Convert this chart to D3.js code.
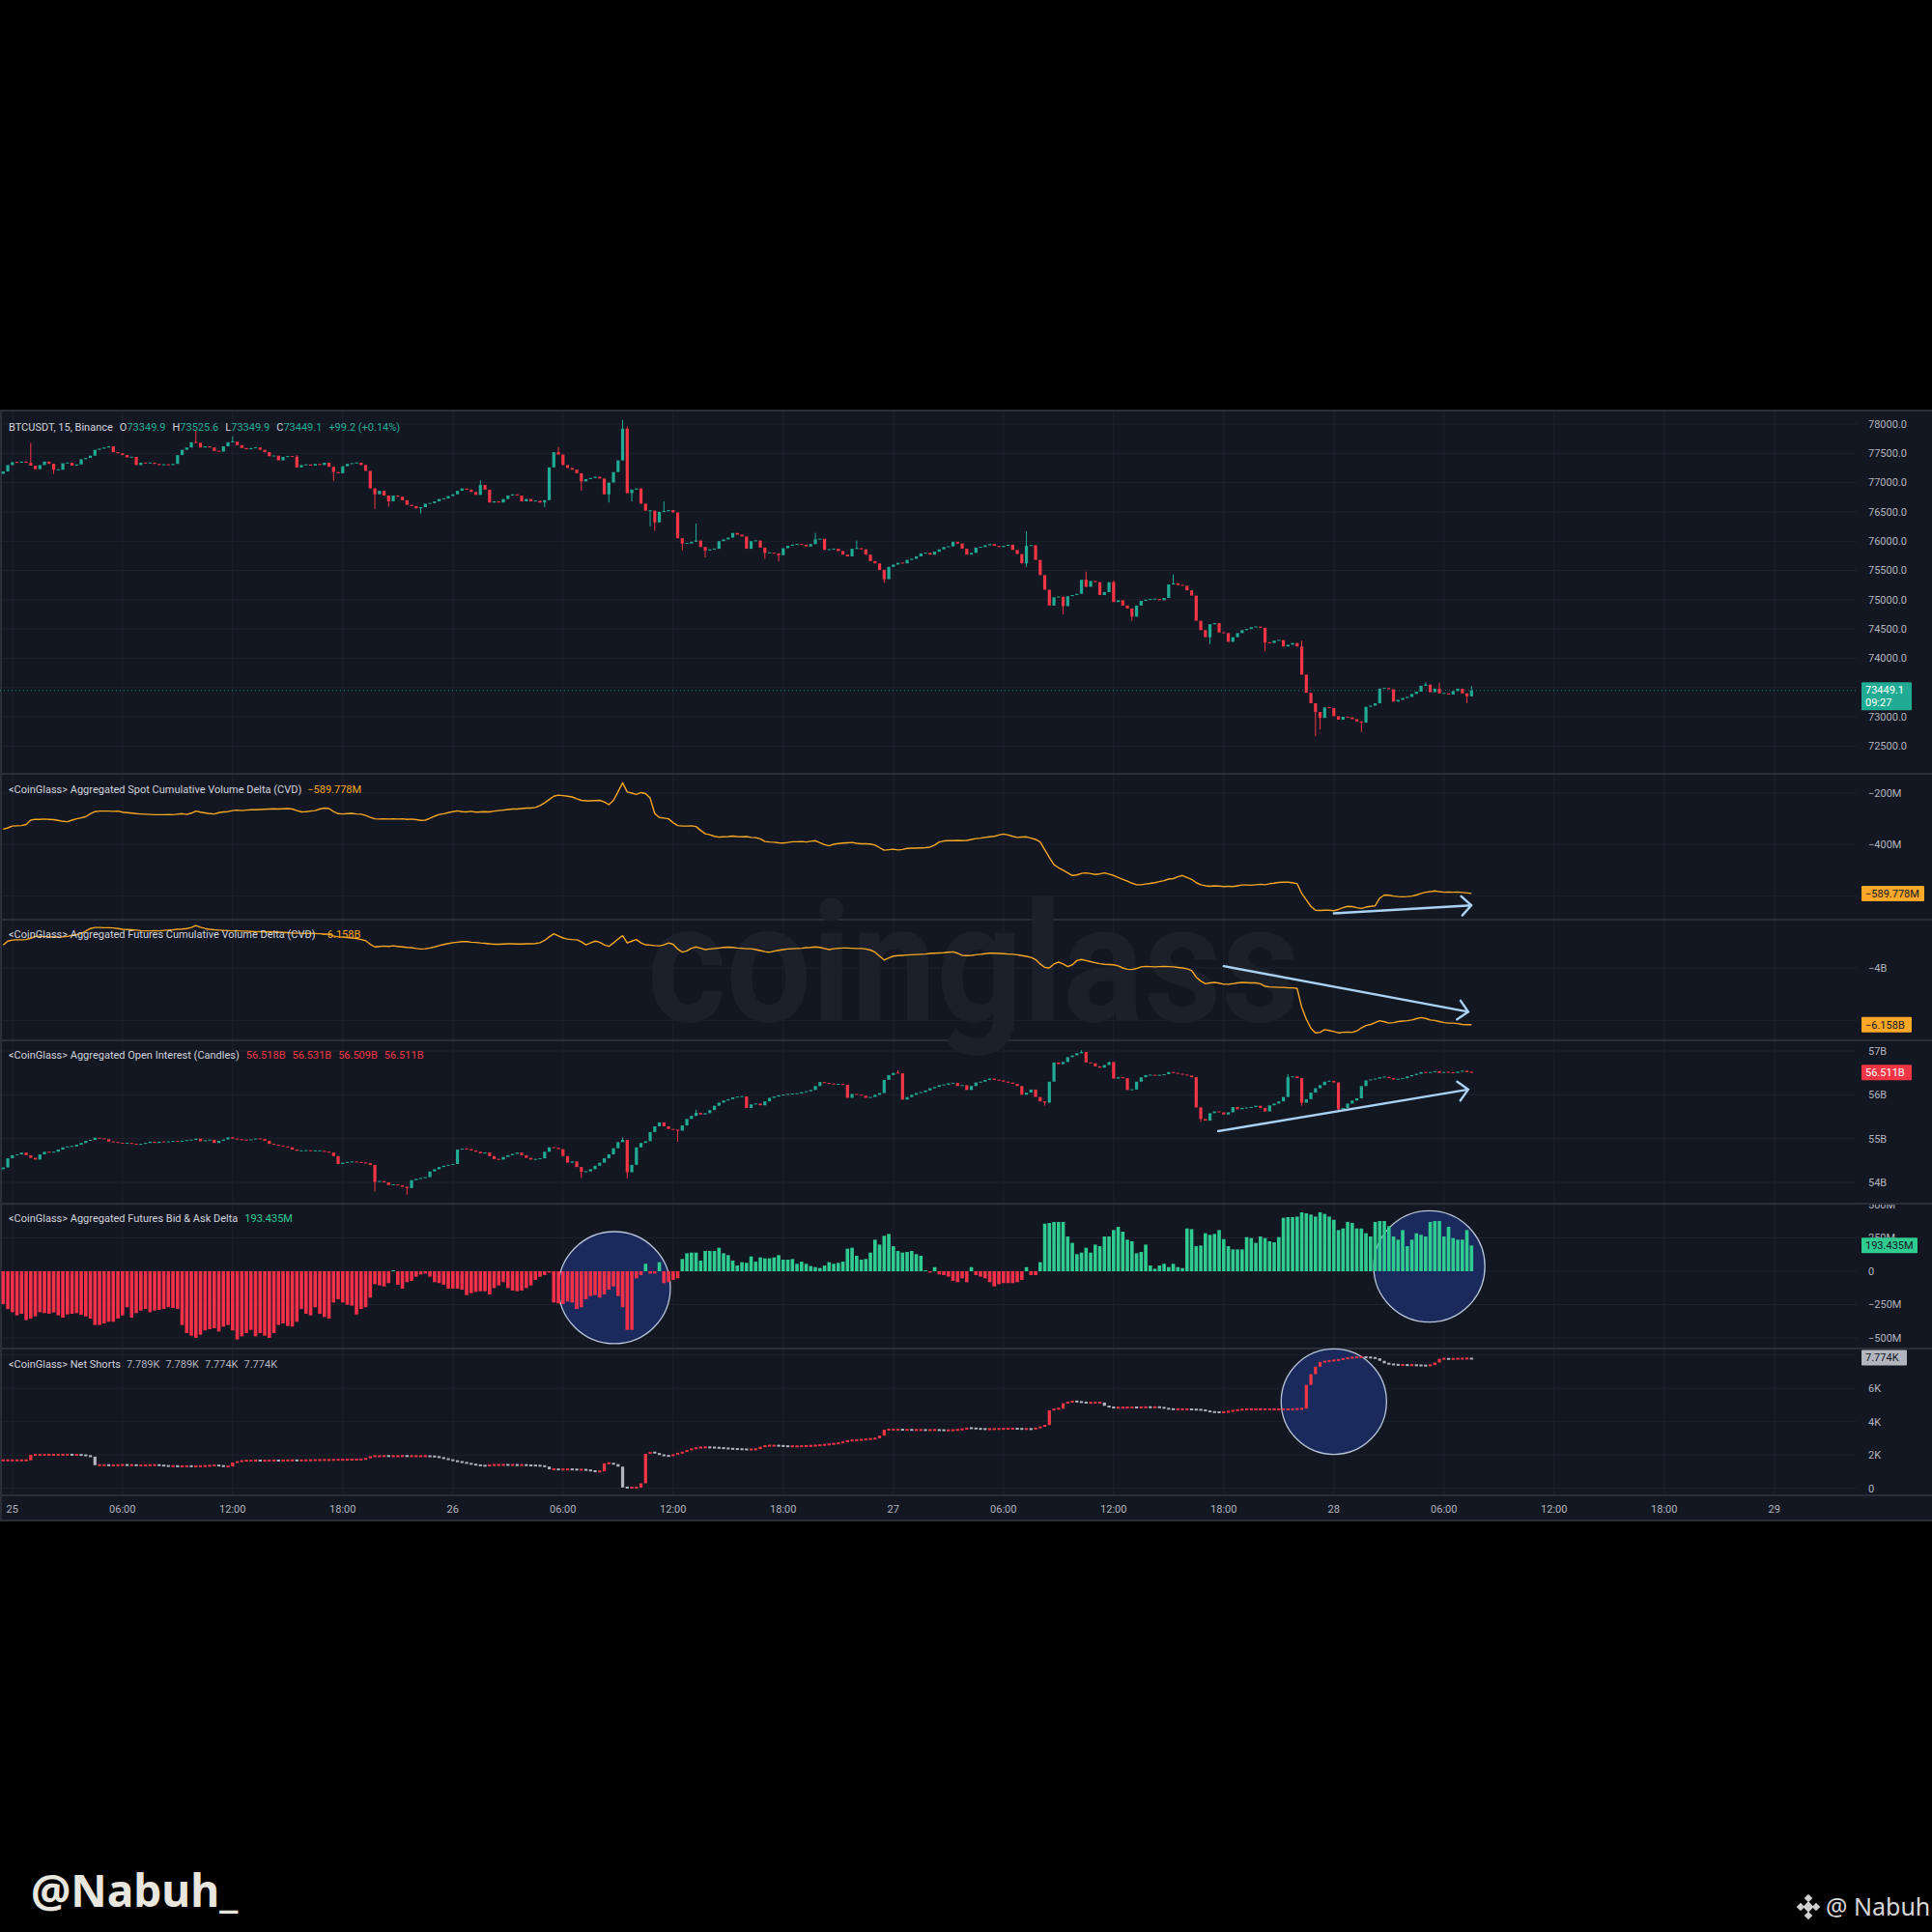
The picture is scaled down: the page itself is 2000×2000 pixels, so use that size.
<!DOCTYPE html>
<html><head><meta charset="utf-8">
<script src="https://cdn.jsdelivr.net/npm/d3@7/dist/d3.min.js"></script>
<style>html,body{margin:0;padding:0;background:#000;}svg{display:block;}</style>
</head><body>
<svg id="c" width="2000" height="2000"></svg>
<script>
// ---------- DATA ----------
const startHour = -0.5;          // first candle: 24th 23:30 (hours since 25th 00:00)
const stepHour = 0.25;           // 15-minute candles
const timeHours  = [0,6,12,18,24,30,36,42,48,54,60,66,72,78,84,90,96];
const timeLabels = ["25","06:00","12:00","18:00","26","06:00","12:00","18:00","27","06:00","12:00","18:00","28","06:00","12:00","18:00","29"];

const priceOpen0 = 77150;
const priceClose = [
77190,77300,77350,77340,77360,77340,77290,77230,77300,77360,
77320,77220,77220,77330,77340,77290,77310,77400,77420,77460,
77560,77580,77600,77620,77520,77500,77470,77430,77440,77300,
77340,77330,77340,77320,77300,77310,77300,77320,77470,77560,
77600,77690,77680,77600,77620,77600,77540,77530,77620,77690,
77700,77640,77590,77570,77590,77600,77560,77520,77450,77460,
77380,77440,77450,77440,77260,77300,77310,77290,77320,77300,
77340,77270,77180,77160,77280,77320,77330,77340,77300,77200,
76900,76800,76860,76780,76680,76780,76760,76700,76620,76600,
76560,76580,76640,76650,76680,76720,76730,76770,76800,76860,
76900,76880,76840,76790,76960,76880,76660,76680,76660,76720,
76780,76800,76780,76680,76720,76680,76690,76660,76700,77260,
77520,77480,77300,77250,77220,77160,77020,77060,77080,77100,
77070,76800,77000,77180,77380,77920,76820,76880,76900,76640,
76520,76520,76320,76500,76510,76530,76490,76050,75960,75960,
75990,76010,75900,75840,75860,75870,76000,76030,76060,76140,
76110,76080,75870,76000,76010,75890,75800,75800,75790,75760,
75880,75920,75940,75950,75940,75910,75950,76030,76040,75850,
75860,75870,75830,75770,75740,75870,75880,75860,75770,75660,
75620,75510,75350,75560,75600,75630,75620,75680,75700,75740,
75790,75800,75770,75820,75860,75900,75910,75990,75960,75870,
75770,75800,75890,75900,75930,75950,75920,75900,75920,75940,
75850,75780,75620,75920,75930,75680,75420,75170,74900,75040,
75050,74890,75060,75080,75100,75340,75220,75320,75300,75080,
75130,75300,74960,74990,74900,74850,74710,74900,74980,75000,
75010,75010,74990,75030,75260,75280,75250,75240,75160,75070,
74640,74480,74360,74580,74600,74440,74430,74280,74360,74430,
74480,74500,74530,74540,74520,74270,74260,74300,74310,74200,
74230,74260,74200,73720,73410,73230,73080,72980,73160,73150,
73010,72950,73000,72990,72960,72920,72900,73170,73190,73230,
73480,73490,73470,73260,73290,73320,73340,73390,73430,73530,
73550,73420,73480,73400,73400,73380,73440,73480,73400,73349.9,
73449.1];
const priceHigh = [[6,77680],[42,77900],[50,77790],[64,77470],[104,77040],[121,77610],[135,78070],[136,77960],[144,76680],[151,76300],[177,76140],[186,76010],[223,76170],[236,75480],[242,75330],[255,75430],[283,74300],[310,73590],[313,73580],[320,73525.6]];
const priceLow  = [[11,77150],[72,77030],[81,76550],[84,76590],[91,76470],[118,76580],[126,76860],[132,76660],[137,76680],[141,76250],[142,76180],[148,75840],[153,75720],[166,75700],[169,75650],[192,75290],[223,75560],[231,74750],[246,74640],[263,74240],[275,74120],[286,72670],[287,72780],[296,72740],[319,73230],[320,73349.9]];

const spotCVD = [
-340,-335,-328,-327,-326,-322,-305,-302,-302,-301,
-302,-303,-306,-310,-311,-305,-300,-296,-292,-280,
-272,-270,-270,-270,-271,-270,-274,-276,-278,-280,
-281,-282,-283,-284,-284,-284,-283,-284,-282,-280,
-283,-278,-270,-274,-277,-280,-281,-276,-273,-272,
-268,-266,-268,-266,-265,-265,-264,-263,-262,-261,
-262,-261,-260,-262,-268,-273,-272,-270,-268,-262,
-258,-260,-272,-280,-281,-280,-279,-281,-282,-287,
-294,-300,-301,-300,-301,-300,-301,-300,-302,-301,
-303,-306,-305,-298,-290,-283,-280,-276,-272,-269,
-272,-273,-271,-274,-273,-272,-273,-270,-268,-266,
-264,-262,-262,-260,-258,-258,-256,-248,-238,-225,
-212,-208,-210,-212,-215,-222,-228,-230,-230,-229,
-228,-234,-245,-228,-195,-160,-196,-200,-205,-198,
-202,-220,-280,-295,-297,-300,-315,-326,-328,-328,
-327,-330,-345,-358,-362,-368,-371,-370,-369,-367,
-369,-370,-369,-372,-373,-378,-388,-390,-391,-393,
-394,-392,-389,-389,-388,-390,-387,-385,-393,-400,
-405,-399,-396,-394,-393,-392,-395,-397,-397,-398,
-402,-412,-422,-420,-418,-421,-419,-415,-414,-414,
-413,-412,-410,-402,-390,-386,-385,-385,-384,-385,
-384,-380,-377,-375,-372,-370,-368,-363,-359,-363,
-368,-372,-371,-370,-375,-380,-390,-420,-450,-478,
-490,-500,-510,-520,-518,-512,-510,-513,-516,-514,
-510,-515,-520,-528,-535,-542,-550,-556,-556,-553,
-551,-548,-544,-540,-534,-532,-525,-520,-528,-535,
-548,-556,-560,-562,-560,-561,-563,-562,-563,-560,
-557,-557,-558,-556,-554,-556,-552,-550,-547,-546,
-546,-548,-552,-590,-615,-640,-655,-656,-655,-655,
-657,-652,-645,-640,-641,-645,-648,-643,-640,-638,
-608,-596,-597,-600,-602,-603,-602,-600,-596,-590,
-585,-583,-580,-583,-585,-584,-585,-584,-586,-588,
-589.778];

const futCVD = [
-3.13,-2.98,-2.94,-2.93,-2.93,-2.92,-2.87,-2.80,-2.80,-2.81,
-2.82,-2.82,-2.83,-2.82,-2.80,-2.76,-2.73,-2.69,-2.60,-2.50,
-2.46,-2.46,-2.47,-2.47,-2.48,-2.50,-2.53,-2.54,-2.55,-2.56,
-2.58,-2.59,-2.59,-2.58,-2.59,-2.57,-2.56,-2.55,-2.53,-2.52,
-2.50,-2.46,-2.39,-2.45,-2.50,-2.53,-2.55,-2.56,-2.57,-2.58,
-2.59,-2.58,-2.60,-2.60,-2.61,-2.62,-2.62,-2.63,-2.62,-2.63,
-2.64,-2.65,-2.66,-2.67,-2.68,-2.68,-2.69,-2.68,-2.69,-2.70,
-2.71,-2.72,-2.78,-2.82,-2.83,-2.84,-2.86,-2.88,-2.92,-2.96,
-3.10,-3.20,-3.18,-3.17,-3.18,-3.16,-3.18,-3.20,-3.22,-3.23,
-3.26,-3.28,-3.27,-3.24,-3.20,-3.15,-3.11,-3.07,-3.04,-3.02,
-3.00,-3.00,-3.02,-3.03,-3.05,-3.06,-3.08,-3.10,-3.10,-3.09,
-3.08,-3.08,-3.09,-3.09,-3.08,-3.08,-3.07,-3.04,-2.95,-2.82,
-2.70,-2.78,-2.86,-2.90,-2.92,-2.93,-3.00,-3.12,-3.05,-2.98,
-3.02,-3.12,-3.18,-3.05,-2.90,-2.77,-3.05,-2.98,-2.92,-3.05,
-3.12,-3.13,-3.15,-3.16,-3.12,-3.05,-3.10,-3.28,-3.40,-3.35,
-3.25,-3.20,-3.25,-3.30,-3.28,-3.26,-3.24,-3.22,-3.21,-3.22,
-3.24,-3.25,-3.27,-3.27,-3.30,-3.34,-3.38,-3.40,-3.36,-3.33,
-3.30,-3.28,-3.27,-3.26,-3.25,-3.23,-3.22,-3.20,-3.22,-3.26,
-3.30,-3.27,-3.25,-3.24,-3.24,-3.25,-3.26,-3.26,-3.28,-3.32,
-3.40,-3.55,-3.70,-3.62,-3.55,-3.53,-3.52,-3.51,-3.50,-3.49,
-3.48,-3.47,-3.45,-3.44,-3.43,-3.42,-3.40,-3.39,-3.44,-3.52,
-3.53,-3.52,-3.50,-3.48,-3.46,-3.44,-3.44,-3.45,-3.46,-3.47,
-3.48,-3.50,-3.53,-3.56,-3.60,-3.68,-3.85,-3.98,-4.00,-3.85,
-3.78,-3.85,-3.95,-3.88,-3.72,-3.68,-3.72,-3.76,-3.80,-3.84,
-3.86,-3.87,-3.88,-3.92,-4.00,-4.05,-4.06,-4.02,-3.96,-3.94,
-3.95,-3.96,-3.95,-3.94,-3.95,-3.96,-3.98,-4.00,-4.03,-4.10,
-4.35,-4.50,-4.60,-4.57,-4.55,-4.58,-4.62,-4.62,-4.60,-4.57,
-4.55,-4.56,-4.57,-4.57,-4.60,-4.70,-4.72,-4.73,-4.74,-4.74,
-4.76,-4.76,-4.78,-5.50,-5.95,-6.30,-6.47,-6.45,-6.35,-6.38,
-6.42,-6.47,-6.45,-6.44,-6.45,-6.40,-6.28,-6.19,-6.15,-6.08,
-6.01,-6.05,-6.10,-6.08,-6.04,-6.02,-6.01,-5.98,-5.93,-5.89,
-5.92,-5.98,-6.00,-6.04,-6.08,-6.10,-6.10,-6.12,-6.15,-6.16,
-6.158];

const oiOpen0 = 54.30;
const oiClose = [
54.34,54.55,54.62,54.64,54.68,54.62,54.56,54.52,54.64,54.70,
54.68,54.70,54.75,54.80,54.82,54.82,54.86,54.90,54.95,54.97,
55.02,55.00,54.99,54.93,54.92,54.90,54.89,54.90,54.88,54.86,
54.88,54.90,54.93,54.90,54.93,54.92,54.93,54.94,54.93,54.95,
54.96,54.97,55.00,54.94,54.96,54.97,54.90,54.95,54.98,55.03,
55.00,54.98,54.97,54.96,54.98,55.00,54.99,54.95,54.88,54.86,
54.84,54.82,54.80,54.75,54.72,54.72,54.73,54.72,54.72,54.72,
54.70,54.68,54.60,54.42,54.45,54.46,54.47,54.46,54.45,54.44,
54.40,54.01,54.03,54.00,53.94,53.95,53.93,53.90,53.87,54.05,
54.08,54.10,54.12,54.25,54.30,54.35,54.38,54.40,54.42,54.75,
54.77,54.76,54.73,54.70,54.66,54.68,54.60,54.53,54.52,54.58,
54.62,54.65,54.68,54.62,54.56,54.52,54.53,54.55,54.70,54.80,
54.79,54.76,54.60,54.45,54.48,54.35,54.24,54.25,54.30,54.38,
54.45,54.55,54.64,54.78,54.92,54.97,54.23,54.40,54.80,54.90,
54.94,55.15,55.28,55.37,55.28,55.22,55.20,55.18,55.30,55.45,
55.52,55.59,55.55,55.58,55.65,55.75,55.82,55.87,55.90,55.94,
55.96,55.96,55.70,55.78,55.80,55.76,55.85,55.93,55.96,55.99,
56.00,56.02,56.02,56.03,56.06,56.08,56.11,56.20,56.29,56.27,
56.25,56.24,56.24,56.23,55.93,56.02,56.00,55.98,55.93,55.95,
56.00,56.04,56.34,56.45,56.50,56.49,55.89,55.95,56.00,56.04,
56.06,56.10,56.15,56.18,56.22,56.23,56.26,56.27,56.20,56.22,
56.11,56.20,56.28,56.30,56.34,56.37,56.34,56.33,56.30,56.28,
56.25,56.20,56.00,56.05,56.12,55.95,55.85,55.82,56.30,56.74,
56.70,56.75,56.86,56.90,56.95,56.98,56.74,56.72,56.65,56.62,
56.68,56.75,56.37,56.40,56.38,56.11,56.12,56.30,56.40,56.45,
56.45,56.44,56.45,56.47,56.52,56.50,56.48,56.46,56.44,56.40,
55.71,55.45,55.41,55.58,55.62,55.60,55.55,55.60,55.72,55.67,
55.70,55.70,55.72,55.75,55.70,55.62,55.76,55.80,55.85,55.95,
56.40,56.42,56.38,55.82,55.90,56.05,56.15,56.22,56.30,56.32,
56.28,55.67,55.70,55.80,55.87,55.92,56.20,56.33,56.35,56.37,
56.40,56.41,56.38,56.35,56.36,56.38,56.42,56.45,56.48,56.52,
56.50,56.52,56.54,56.50,56.52,56.51,56.50,56.53,56.55,56.518,
56.511];
const oiHigh = [[135,55.03],[151,55.66],[195,56.56],[235,57.02],[280,56.47],[320,56.531]];
const oiLow  = [[81,53.79],[88,53.72],[126,54.10],[136,54.09],[147,54.93],[227,55.75],[261,55.38],[283,55.75],[291,55.62],[320,56.509]];

const bidAskDelta = [
-246,-283,-307,-331,-319,-367,-355,-338,-307,-314,
-319,-309,-331,-348,-324,-319,-314,-326,-338,-355,
-403,-403,-391,-379,-379,-355,-331,-270,-348,-314,
-295,-283,-307,-295,-290,-283,-270,-275,-283,-403,
-464,-483,-500,-476,-444,-435,-427,-452,-415,-403,
-444,-512,-488,-464,-440,-488,-464,-483,-500,-464,
-403,-391,-411,-415,-379,-283,-319,-331,-270,-319,
-343,-355,-234,-210,-234,-251,-258,-324,-283,-270,
-198,-97,-106,-114,-89,7,-101,-130,-82,-72,
-41,-24,-17,-41,-82,-89,-101,-130,-130,-130,
-138,-179,-164,-155,-150,-150,-174,-126,-106,-82,
-126,-145,-150,-145,-126,-106,-65,-41,-29,-10,
-234,-242,-246,-227,-234,-283,-270,-210,-186,-179,
-198,-174,-138,-114,-186,-270,-440,-440,-53,-29,
56,-17,-17,68,-89,-82,-65,-53,92,135,
140,140,80,152,152,152,176,135,121,80,
43,68,63,111,72,104,97,97,104,121,
87,87,92,56,72,56,39,31,24,43,
68,56,63,72,169,176,116,87,92,140,
237,200,266,280,188,152,140,145,152,128,
116,7,-10,31,-24,-29,-41,-72,-82,-53,
-82,31,-29,-41,-53,-82,-114,-97,-89,-89,
-89,-82,-65,31,-29,-29,68,357,362,370,
370,370,261,213,128,140,176,140,200,188,
261,261,309,333,297,237,225,135,145,200,
43,19,43,56,31,56,31,24,321,316,
188,193,285,273,280,309,241,188,164,164,
164,256,249,213,261,249,225,217,256,401,
406,406,410,442,435,425,410,442,430,410,
386,309,321,370,362,321,321,285,261,370,
377,377,338,261,237,309,188,237,285,273,
261,370,377,377,261,333,249,237,237,309,
193.435];

const netShortsOpen0 = 1.68;
const netShorts = [
1.68,1.68,1.68,1.68,1.68,1.68,2.01,2.01,2.01,2.01,
2.01,2.01,2.01,2.02,2.02,2.01,2.01,2.00,1.96,1.90,
1.39,1.39,1.39,1.38,1.38,1.39,1.40,1.39,1.39,1.38,
1.38,1.38,1.39,1.40,1.38,1.35,1.33,1.33,1.32,1.32,
1.33,1.32,1.32,1.33,1.34,1.36,1.38,1.36,1.31,1.31,
1.55,1.60,1.66,1.66,1.66,1.67,1.66,1.66,1.67,1.67,
1.66,1.67,1.68,1.68,1.67,1.68,1.68,1.69,1.69,1.70,
1.70,1.70,1.71,1.71,1.72,1.72,1.72,1.73,1.73,1.80,
1.93,1.93,1.93,1.94,1.93,1.93,1.93,1.94,1.93,1.93,
1.93,1.93,1.93,1.92,1.90,1.85,1.78,1.72,1.65,1.60,
1.55,1.50,1.44,1.40,1.36,1.35,1.40,1.40,1.40,1.41,
1.40,1.40,1.39,1.40,1.38,1.37,1.36,1.35,1.30,1.14,
1.14,1.13,1.13,1.14,1.13,1.12,1.12,1.10,1.05,1.00,
1.02,1.50,1.50,1.45,1.30,0.05,0.04,0.04,0.05,0.30,
2.07,2.17,2.12,2.00,1.96,1.93,2.05,2.10,2.18,2.30,
2.38,2.43,2.46,2.46,2.45,2.44,2.42,2.40,2.38,2.36,
2.35,2.34,2.33,2.33,2.35,2.50,2.56,2.56,2.56,2.55,
2.53,2.52,2.52,2.52,2.53,2.54,2.55,2.57,2.60,2.62,
2.65,2.68,2.72,2.80,2.86,2.88,2.90,2.92,2.95,2.97,
3.00,3.16,3.52,3.52,3.52,3.52,3.51,3.51,3.50,3.50,
3.50,3.49,3.50,3.50,3.49,3.48,3.48,3.49,3.52,3.55,
3.62,3.60,3.58,3.56,3.55,3.55,3.56,3.56,3.57,3.58,
3.58,3.57,3.56,3.56,3.55,3.62,3.70,3.80,4.68,4.77,
4.78,5.10,5.18,5.22,5.20,5.15,5.13,5.14,5.14,5.15,
4.95,4.86,4.84,4.84,4.85,4.85,4.86,4.85,4.86,4.87,
4.86,4.87,4.86,4.80,4.75,4.74,4.74,4.74,4.74,4.73,
4.72,4.70,4.65,4.58,4.57,4.56,4.57,4.62,4.68,4.70,
4.74,4.74,4.74,4.74,4.74,4.74,4.74,4.74,4.74,4.74,
4.74,4.75,4.76,4.78,6.20,6.85,7.30,7.58,7.62,7.66,
7.68,7.72,7.78,7.82,7.85,7.87,7.87,7.86,7.84,7.80,
7.65,7.50,7.45,7.42,7.40,7.40,7.39,7.39,7.38,7.37,
7.36,7.40,7.55,7.77,7.77,7.76,7.77,7.78,7.789,7.789,
7.774];

// axis ticks (gridlines) and the labels that the reference shows on the axis
const priceTicks = [72500,73000,73500,74000,74500,75000,75500,76000,76500,77000,77500,78000];
const spotTicks = [-600,-400,-200];
const futTicks = [-6,-4];
const oiTicks = [54,55,56,57];
const baTicks = [-500,-250,0,250,500];
const nsTicks = [0,2,4,6,8];
const priceAxisLabels = [72500,73000,74000,74500,75000,75500,76000,76500,77000,77500,78000];
const spotAxisLabels = [-400,-200];
const futAxisLabels = [-4];
const oiAxisLabels = [54,55,56,57];
const baAxisLabels = [-500,-250,0,250,500];
const nsAxisLabels = [0,2,4,6];

// annotations (hour, value)
const circles = [
  {pane:"ba", t:32.8, v:-123, r:3.05},
  {pane:"ba", t:77.2, v:36,   r:3.03},
  {pane:"ns", t:72.0, v:5.2,  r:2.87}
];
const arrows = [
  {pane:"spot", t0:72.0, v0:-667, t1:79.49, v1:-636},
  {pane:"fut",  t0:66.0, v0:-3.93, t1:79.32, v1:-5.67},
  {pane:"oi",   t0:65.7, v0:55.17, t1:79.32, v1:56.12}
];

// ---------- LAYOUT / STYLE ----------
const FONT = "Roboto, 'Noto Sans', sans-serif";
const BG = "#131722", GRID = "#1e222d", SEP = "#2a2e39", TXT = "#d1d4dc", AX = "#b2b5be";
const UP = "#22ab94", DN = "#f23645", BAUP = "#2fcb91", BADN = "#f2304a", ORANGE = "#f5a623";
const plotR = 1922;
const panes = {
  price:{top:425,bottom:801}, spot:{top:801,bottom:952}, fut:{top:952,bottom:1077},
  oi:{top:1077,bottom:1246}, ba:{top:1246,bottom:1396}, ns:{top:1396,bottom:1548}
};
const x = d3.scaleLinear().domain([0,96]).range([12.8,1836.8]);
const ys = {
  price: d3.scaleLinear().domain([72500,78000]).range([772.3,439]),
  spot:  d3.scaleLinear().domain([-600,-200]).range([927.6,821]),
  fut:   d3.scaleLinear().domain([-6,-4]).range([1056.4,1002]),
  oi:    d3.scaleLinear().domain([54,57]).range([1224,1088]),
  ba:    d3.scaleLinear().domain([-500,500]).range([1385,1247]),
  ns:    d3.scaleLinear().domain([0,8]).range([1540.7,1402.7])
};
const tOf = i => startHour + i*stepHour;
const minus = s => s.replace("-", "\u2212");

const svg = d3.select("#c");
svg.append("rect").attr("width",2000).attr("height",2000).attr("fill","#000");
svg.append("rect").attr("x",0).attr("y",425).attr("width",2000).attr("height",1150).attr("fill",BG);

const defs = svg.append("defs");
Object.entries(panes).forEach(([k,p]) => {
  defs.append("clipPath").attr("id","clip-"+k).append("rect")
    .attr("x",0).attr("y",p.top+1).attr("width",plotR).attr("height",p.bottom-p.top-2);
  defs.append("clipPath").attr("id","aclip-"+k).append("rect")
    .attr("x",plotR).attr("y",p.top+1).attr("width",2000-plotR).attr("height",p.bottom-p.top-2);
});

// grid
const grid = svg.append("g");
grid.selectAll("line.v").data(timeHours).join("line")
  .attr("x1",d=>x(d)).attr("x2",d=>x(d)).attr("y1",426).attr("y2",1548)
  .attr("stroke",GRID).attr("stroke-width",1);
const tickSets = {price:priceTicks, spot:spotTicks, fut:futTicks, oi:oiTicks, ba:baTicks, ns:nsTicks};
Object.entries(tickSets).forEach(([k,ticks]) => {
  grid.append("g").attr("clip-path",`url(#clip-${k})`).selectAll("line").data(ticks).join("line")
    .attr("x1",0).attr("x2",plotR).attr("y1",d=>ys[k](d)).attr("y2",d=>ys[k](d))
    .attr("stroke",GRID).attr("stroke-width",1);
});

// separators
const sepY = [425,801,952,1077,1246,1396,1548];
svg.append("g").selectAll("line").data(sepY).join("line")
  .attr("x1",0).attr("x2",2000).attr("y1",d=>d).attr("y2",d=>d)
  .attr("stroke",SEP).attr("stroke-width",2);
svg.append("line").attr("x1",1).attr("x2",1).attr("y1",425).attr("y2",1575).attr("stroke",SEP).attr("stroke-width",2);
svg.append("line").attr("x1",0).attr("x2",2000).attr("y1",1574).attr("y2",1574).attr("stroke",SEP).attr("stroke-width",2);

// watermark
svg.append("text").attr("x",670).attr("y",1057).attr("textLength",675).attr("lengthAdjust","spacingAndGlyphs")
  .attr("font-family","Roboto, sans-serif").attr("font-weight",700).attr("font-size",172)
  .attr("fill","#1c202b").text("coinglass");

// circles (under series)
const ann = svg.append("g");
circles.forEach(c => {
  ann.append("circle").attr("cx",x(c.t)).attr("cy",ys[c.pane](c.v))
    .attr("r", x(c.r)-x(0)).attr("fill","#1b2a5c").attr("stroke","#b8c4d8").attr("stroke-width",1.3);
});

// candles helper
function candleRows(closes, open0, highs, lows) {
  const hm = new Map(highs), lm = new Map(lows);
  return closes.map((c,i) => {
    const o = i===0 ? open0 : closes[i-1];
    const h = Math.max(o, c, hm.has(i) ? hm.get(i) : -Infinity);
    const l = Math.min(o, c, lm.has(i) ? lm.get(i) : Infinity);
    return {i, o, h, l, c};
  });
}
function drawCandles(key, rows, upCol, dnCol, minH) {
  const y = ys[key];
  const g = svg.append("g").attr("clip-path",`url(#clip-${key})`);
  const col = d => d.c >= d.o ? upCol : dnCol;
  g.selectAll("line").data(rows.filter(d => d.h > Math.max(d.o,d.c) || d.l < Math.min(d.o,d.c))).join("line")
    .attr("x1",d=>x(tOf(d.i))).attr("x2",d=>x(tOf(d.i)))
    .attr("y1",d=>y(d.h)).attr("y2",d=>y(d.l)).attr("stroke",col).attr("stroke-width",1);
  g.selectAll("rect").data(rows).join("rect")
    .attr("x",d=>x(tOf(d.i))-1.6).attr("width",3.2)
    .attr("y",d=>Math.min(y(d.o),y(d.c)) - (Math.abs(y(d.o)-y(d.c))<minH ? (minH-Math.abs(y(d.o)-y(d.c)))/2 : 0))
    .attr("height",d=>Math.max(minH, Math.abs(y(d.o)-y(d.c))))
    .attr("fill",col);
}

// price candles
drawCandles("price", candleRows(priceClose, priceOpen0, priceHigh, priceLow), UP, DN, 1);
svg.append("line").attr("x1",0).attr("x2",plotR)
  .attr("y1",ys.price(73449.1)).attr("y2",ys.price(73449.1))
  .attr("stroke",UP).attr("stroke-opacity",0.7).attr("stroke-dasharray","1,3");

// CVD lines
function drawLine(key, vals) {
  svg.append("g").attr("clip-path",`url(#clip-${key})`).append("path")
    .datum(vals).attr("fill","none").attr("stroke",ORANGE).attr("stroke-width",1.4)
    .attr("stroke-linejoin","round")
    .attr("d", d3.line().x((d,i)=>x(tOf(i))).y(d=>ys[key](d)));
}
drawLine("spot", spotCVD);
drawLine("fut", futCVD);

// OI candles
drawCandles("oi", candleRows(oiClose, oiOpen0, oiHigh, oiLow), UP, DN, 1);

// bid/ask delta bars
const gba = svg.append("g").attr("clip-path","url(#clip-ba)");
gba.selectAll("rect").data(bidAskDelta).join("rect")
  .attr("x",(d,i)=>x(tOf(i))-1.8).attr("width",3.6)
  .attr("y",d=>Math.min(ys.ba(0),ys.ba(d))).attr("height",d=>Math.max(1,Math.abs(ys.ba(d)-ys.ba(0))))
  .attr("fill",d=>d>=0?BAUP:BADN);

// net shorts candles
drawCandles("ns", candleRows(netShorts, netShortsOpen0, [], []), DN, "#b2b5be", 2);

// arrows
const ag = svg.append("g");
arrows.forEach(a => {
  const x0 = x(a.t0), y0 = ys[a.pane](a.v0), x1 = x(a.t1), y1 = ys[a.pane](a.v1);
  const ang = Math.atan2(y1-y0, x1-x0), L = 14, s = Math.PI/4;
  const h1 = [x1 - L*Math.cos(ang - s), y1 - L*Math.sin(ang - s)];
  const h2 = [x1 - L*Math.cos(ang + s), y1 - L*Math.sin(ang + s)];
  ag.append("path").attr("d",`M${x0},${y0}L${x1},${y1}M${h1[0]},${h1[1]}L${x1},${y1}L${h2[0]},${h2[1]}`)
    .attr("fill","none").attr("stroke","#a9d2f5").attr("stroke-width",2.4).attr("stroke-linecap","round");
});

// right axis labels
const fmt = {
  price: d => d3.format(".1f")(d),
  spot: d => minus(d+"M"),
  fut: d => minus(d+"B"),
  oi: d => d+"B",
  ba: d => d===0 ? "0" : minus(d+"M"),
  ns: d => d===0 ? "0" : d+"K"
};
const labelSets = {price:priceAxisLabels, spot:spotAxisLabels, fut:futAxisLabels, oi:oiAxisLabels, ba:baAxisLabels, ns:nsAxisLabels};
Object.entries(labelSets).forEach(([k,ticks]) => {
  svg.append("g").attr("clip-path",`url(#aclip-${k})`).selectAll("text").data(ticks).join("text")
    .attr("x",1934).attr("y",d=>ys[k](d)).attr("dy","0.35em")
    .attr("font-family",FONT).attr("font-size",11).attr("fill",AX).text(fmt[k]);
});

// value boxes on axis
function box(yc, lines, bg, fg, w) {
  const h = lines.length===1 ? 16 : 29;
  svg.append("rect").attr("x",1927).attr("y",yc-h/2).attr("width",w).attr("height",h).attr("fill",bg).attr("rx",1);
  lines.forEach((t,j) => {
    svg.append("text").attr("x",1931).attr("y", yc - h/2 + 8 + j*13).attr("dy","0.35em")
      .attr("font-family",FONT).attr("font-size",11).attr("fill",fg).text(t);
  });
}
box(ys.price(73449.1)+6, ["73449.1","09:27"], UP, "#ffffff", 52);
box(ys.spot(-589.778), [minus("-589.778M")], "#ffa726", "#131722", 65);
box(ys.fut(-6.158), [minus("-6.158B")], "#ffa726", "#131722", 52);
box(ys.oi(56.511), ["56.511B"], DN, "#ffffff", 52);
box(ys.ba(193.435), ["193.435M"], BAUP, "#131722", 58);
box(ys.ns(7.774)-1, ["7.774K"], "#b2b5be", "#131722", 47);

// time axis labels
svg.append("g").selectAll("text").data(timeHours).join("text")
  .attr("x",d=>x(d)).attr("y",1562).attr("dy","0.35em").attr("text-anchor","middle")
  .attr("font-family",FONT).attr("font-size",11).attr("fill",AX).text((d,i)=>timeLabels[i]);

// legends
function legend(y, parts) {
  const t = svg.append("text").attr("x",9).attr("y",y).attr("dy","0.35em")
    .attr("font-family",FONT).attr("font-size",11);
  parts.forEach(p => t.append("tspan").attr("dx", p[2]||0).attr("fill",p[1]).text(p[0]));
}
legend(442, [["BTCUSDT, 15, Binance",TXT],["O",TXT,7],["73349.9",UP],["H",TXT,7],["73525.6",UP],["L",TXT,7],["73349.9",UP],["C",TXT,7],["73449.1",UP],["+99.2 (+0.14%)",UP,7]]);
legend(817, [["<CoinGlass> Aggregated Spot Cumulative Volume Delta (CVD)",TXT],[minus("-589.778M"),ORANGE,6]]);
legend(967, [["<CoinGlass> Aggregated Futures Cumulative Volume Delta (CVD)",TXT],[minus("-6.158B"),ORANGE,6]]);
legend(1092, [["<CoinGlass> Aggregated Open Interest (Candles)",TXT],["56.518B",DN,7],["56.531B",DN,7],["56.509B",DN,7],["56.511B",DN,7]]);
legend(1261, [["<CoinGlass> Aggregated Futures Bid & Ask Delta",TXT],["193.435M",BAUP,7]]);
legend(1412, [["<CoinGlass> Net Shorts",TXT],["7.789K",AX,6],["7.789K",AX,6],["7.774K",AX,6],["7.774K",AX,6]]);

// signatures
svg.append("text").attr("x",32).attr("y",1974).attr("font-family","'Noto Sans', 'Open Sans', sans-serif")
  .attr("font-weight",700).attr("font-size",46).attr("fill","#e8e6df").text("@Nabuh_");
const lg = svg.append("g").attr("fill","#d0d0d0");
[[0,0,4],[0,-9,3],[0,9,3],[-8,0,3],[8,0,3]].forEach(([dx,dy,s]) => {
  lg.append("rect").attr("x",1872+dx-s).attr("y",1974+dy-s).attr("width",2*s).attr("height",2*s)
    .attr("transform",`rotate(45 ${1872+dx} ${1974+dy})`);
});
svg.append("text").attr("x",1890).attr("y",1983).attr("font-family","'Noto Sans', sans-serif")
  .attr("font-size",25).attr("fill","#d8d8d8").text("@ Nabuh");
</script>
</body></html>
